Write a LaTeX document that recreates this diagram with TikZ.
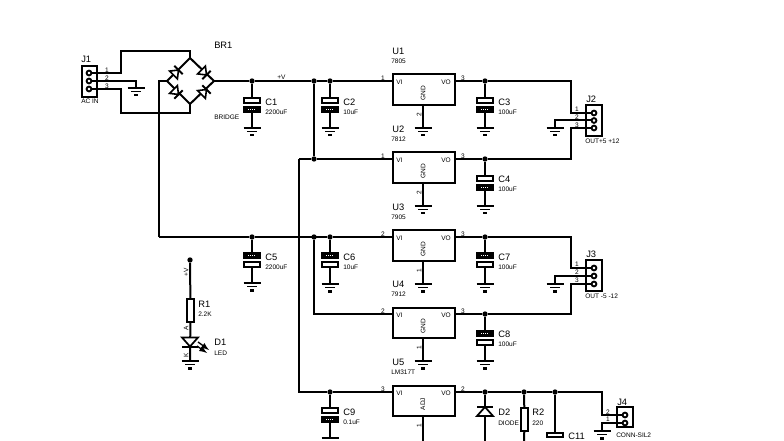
\documentclass[tikz,border=0pt]{standalone}
\usepackage{fontspec}
\setmainfont{Liberation Sans}
\tikzset{
	wire/.style={line width=1.5pt},
	biglab/.style={font=\fontsize{7}{8}\selectfont,inner sep=0pt,anchor=west},
	smalllab/.style={font=\fontsize{4.9}{6}\selectfont,inner sep=0pt,anchor=west},
	pinlab/.style={font=\fontsize{4.9}{6}\selectfont,inner sep=0pt},
	sidelab/.style={pinlab,rotate=90},
	regbox/.style={draw,line width=1.5pt,fill=white,inner sep=0pt,minimum width=46.5pt,minimum height=23pt,anchor=north west},
	connbox/.style={draw,line width=1.5pt,fill=white,inner sep=0pt,minimum width=11.5pt},
	pinpad/.style={circle,draw,line width=1.4pt,fill=white,inner sep=0pt,minimum size=3.6pt},
	dotn/.style={circle,fill,inner sep=0pt,minimum size=4pt},
	capw/.style={draw,line width=1.3pt,fill=white,inner sep=0pt,minimum width=12.5pt,minimum height=3.4pt},
	capb/.style={capw,fill=black,path picture={\draw[white,densely dotted,line width=.5pt]
		([xshift=3.5pt]path picture bounding box.west)--([xshift=-3.5pt]path picture bounding box.east);}},
	resbox/.style={draw,line width=1.3pt,fill=white,inner sep=0pt,minimum width=5pt,minimum height=17pt},
	gnd/.pic={
		\draw[line width=1.4pt] (-8.5,0)--(8.5,0);
		\draw[line width=.5pt] (-5,3.5)--(5,3.5);
		\fill (-1.7,6)rectangle(1.7,8.5);
	},
	brdiode/.pic={
		\draw[fill=white,line width=1.2pt] (-3.5,-5.5)--(-3.5,5.5)--(3.5,0)--cycle;
		\draw[line width=1.5pt] (3.5,-6)--(3.5,6);
	},
	axdiode/.pic={
		\draw[fill=white,line width=1.3pt] (-4.5,-8)--(-4.5,8)--(4.5,0)--cycle;
		\draw[line width=1.5pt] (4.5,-8)--(4.5,8);
	},
	ledarrows/.pic={
		\draw[->,line width=1pt] (0,0)--(11,8);
		\draw[->,line width=1pt] (-1,4)--(9,11);
	},
}
\begin{document}
\begin{tikzpicture}[>=latex,x=0.75pt,y=-0.75pt]
\clip (0,0) rectangle (784,441);

\coordinate (brT) at (190,58);
\coordinate (brL) at (167,81);
\coordinate (brR) at (214,81);
\coordinate (brB) at (190,104);
\coordinate (cAC1) at (121,51);
\coordinate (cAC3) at (121,113);
\coordinate (gJ1) at (136,88);
\coordinate (cNeg) at (159,237);
\coordinate (cV) at (299,159);
\coordinate (cVb) at (299,392);
\coordinate (cJ2a) at (571,113);
\coordinate (cJ2c) at (571,128);
\coordinate (gJ2) at (555,128);
\coordinate (cJ3a) at (571,268);
\coordinate (cJ3c) at (571,284);
\coordinate (gJ3) at (555,284);
\coordinate (cJ4a) at (602,415);
\coordinate (gJ4) at (602,431);
\coordinate (D2low) at (485,445);
\coordinate (R2low) at (524,445);
\coordinate (gD1) at (190,361);

\node[dotn] (jA) at (314,81) {};
\node[dotn] (jB) at (314,159) {};
\node[dotn] (jC) at (314,237) {};
\coordinate (jD) at (314,314);
\node[dotn] (D2top) at (485,392) {};
\node[dotn] (R2top) at (524,392) {};
\node[dotn] (C11top) at (555,392) {};
\node[dotn] (R1top) at (190,260) {};

\node[connbox,minimum height=23pt] (J1) at (89.5,81.5) {};
\node[connbox,minimum height=23pt] (J2) at (594,120.5) {};
\node[connbox,minimum height=23pt] (J3) at (594,275.5) {};
\node[connbox,minimum height=15pt] (J4) at (625,417) {};
\foreach \name/\x/\y in {J1p1/89/73,J1p2/89/81,J1p3/89/89,J2p1/594/113,J2p2/594/120.5,J2p3/594/128,
	J3p1/594/268,J3p2/594/276,J3p3/594/284,J4p2/625/415,J4p1/625/423}{
	\node[pinpad] (\name) at (\x,\y) {};
}

\foreach \name/\y/\val/\mid/\pin/\pout/\plow/\gy in {
	U1/81/7805/GND/1/3/2/128,
	U2/159/7812/GND/1/3/2/206,
	U3/237/7905/GND/2/3/1/284,
	U4/314/7912/GND/2/3/1/361,
	U5/392/LM317T/ADJ/3/2/1/470}{
	\node[regbox] (\name) at (392,\y-7.5) {};
	\coordinate (\name vi) at (392,\y);
	\coordinate (\name vo) at (454,\y);
	\coordinate (\name low) at (423,\gy);
	\draw[wire] (423,\y+23) coordinate (\name out) -- (\name low);
	\pic at (\name low) {gnd};
	\node[biglab] (\name lab) at (392,\y-29.5) {\name};
	\node[smalllab] (\name ref) at (391,\y-19.3) {\val};
	\node[smalllab] (\name vil) at (396,\y+1) {VI};
	\node[smalllab,anchor=east] (\name vol) at (451,\y+1) {VO};
	\node[sidelab] (\name gl) at (423,\y+12) {\mid};
	\node[pinlab] (\name pa) at (383,\y-2.5) {\pin};
	\node[pinlab] (\name pb) at (463,\y-2.5) {\pout};
	\node[sidelab] (\name pc) at (419,\y+33.5) {\plow};
}

\foreach \name/\x/\top/\sa/\sb/\ya/\gy/\val/\ly in {
	C1/252/81/capw/capb/100.5/128/2200uF/102,
	C2/330/81/capw/capb/100.5/128/10uF/102,
	C3/485/81/capw/capb/100.5/128/100uF/102,
	C4/485/159/capw/capb/178.5/206/100uF/179,
	C5/252/237/capb/capw/255.5/283/2200uF/257,
	C6/330/237/capb/capw/255.5/284/10uF/257,
	C7/485/237/capb/capw/255.5/284/100uF/257,
	C8/485/314/capb/capw/333.5/361/100uF/334,
	C9/330/392/capw/capb/410.5/438/0.1uF/412}{
	\node[dotn] (\name top) at (\x,\top) {};
	\node[\sa] (\name a) at (\x,\ya) {};
	\node[\sb] (\name b) at (\x,\ya+9) {};
	\coordinate (\name low) at (\x,\gy);
	\draw[wire] (\name top)--(\name a);
	\draw[wire] (\name b)--(\name low);
	\pic at (\name low) {gnd};
	\node[biglab] (\name lab) at (\x+13,\ly) {\name};
	\node[smalllab] (\name val) at (\x+13,\ly+10.5) {\val};
}

\node[capw] (C11a) at (555,435) {};
\node[resbox] (R1) at (190.5,310.5) {};
\node[resbox] (R2) at (524.5,419.5) {};

\draw[wire] (J1p1) -| (cAC1) -| (brT);
\draw[wire] (J1p3) -| (cAC3) -| (brB);
\draw[wire] (J1p2) -| (gJ1);
\draw[wire] (brL)--(brT)--(brR)--(brB)--cycle;
\draw[wire] (brL) -| (cNeg);
\draw[wire] (cNeg)--(C5top)--(C6top);
\draw[wire] (C6top)--(U3vi);
\draw[wire] (brR)--(C1top)--(jA)--(C2top)--(U1vi);
\draw[wire] (jA)--(jB);
\draw[wire] (cV)--(jB)--(U2vi);
\draw[wire] (cV)--(cVb)--(C9top)--(U5vi);
\draw[wire] (jC)--(jD)--(U4vi);
\draw[wire] (U1vo)--(C3top) -| (cJ2a)--(J2p1);
\draw[wire] (U2vo)--(C4top) -| (cJ2c)--(J2p3);
\draw[wire] (J2p2) -| (gJ2);
\draw[wire] (U3vo)--(C7top) -| (cJ3a)--(J3p1);
\draw[wire] (U4vo)--(C8top) -| (cJ3c)--(J3p3);
\draw[wire] (J3p2) -| (gJ3);
\draw[wire] (U5vo)--(D2top)--(R2top)--(C11top) -| (cJ4a)--(J4p2);
\draw[wire] (J4p1) -| (gJ4);
\draw[wire] (D2top)--(D2low);
\draw[wire] (R2top)--(R2);
\draw[wire] (R2)--(R2low);
\draw[wire] (C11top)--(C11a);
\draw[wire] (R1top)--(R1);
\draw[wire] (R1)--(gD1);

\foreach \g in {gJ1,gJ2,gJ3,gJ4,gD1}{
	\pic at (\g) {gnd};
}
\pic[rotate=45] at (176,72.5) {brdiode};
\pic[rotate=-45] at (204,72.5) {brdiode};
\pic[rotate=-45] at (176,92) {brdiode};
\pic[rotate=45] at (204,92) {brdiode};
\pic[rotate=90] at (485,411.5) {axdiode};
\pic[rotate=-90] at (190,342) {axdiode};
\pic at (198,342) {ledarrows};

\foreach \name/\x/\y/\txt in {
	lJ1/81/59/J1,lBR/214/45/BR1,lR1/198/304/R1,lD1/214/342/D1,lJ2/586/99/J2,lJ3/586/254/J3,
	lD2/498/412/D2,lR2/532/412/R2,lC11/568/436/C11,lJ4/617/402/J4}{
	\node[biglab] (\name) at (\x,\y) {\txt};
}
\foreach \name/\x/\y/\txt in {
	sAC/81/101/AC IN,sBr/214/117/BRIDGE,sV/277/77/+V,sR1/198/314/2.2K,sD1/214/353/LED,
	sJ2/585/141/OUT+5 +12,sJ3/585/296/OUT -5 -12,sD2/498/423/DIODE,sR2/532/423/220,sJ4/616/435/CONN-SIL2}{
	\node[smalllab] (\name) at (\x,\y) {\txt};
}
\foreach \name/\x/\y/\txt in {
	n1a/107/70/1,n1b/107/78/2,n1c/107/86/3,
	n2a/577/109/1,n2b/577/117/2,n2c/577/125/3,
	n3a/577/264/1,n3b/577/272/2,n3c/577/280/3,
	n4a/608/412/2,n4b/608/419/1}{
	\node[pinlab] (\name) at (\x,\y) {\txt};
}
\node[sidelab] (sVr) at (186,272) {+V};
\node[sidelab] (sA) at (186,328) {A};
\node[sidelab] (sK) at (186,355) {K};
\end{tikzpicture}
\end{document}
